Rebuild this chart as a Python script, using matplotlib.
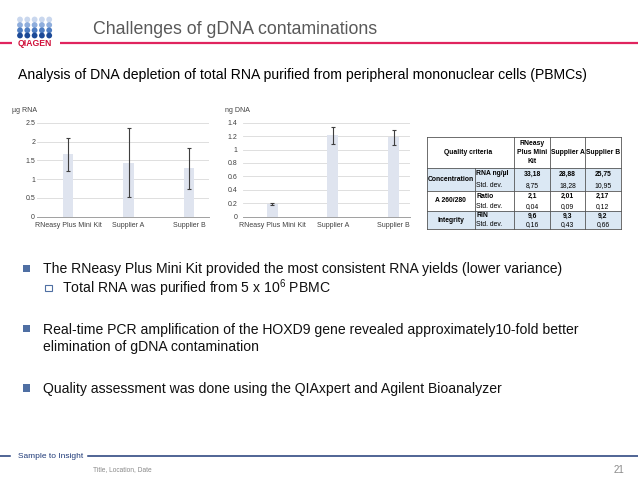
import matplotlib
matplotlib.use("Agg")
import matplotlib.pyplot as plt
from matplotlib.patches import Rectangle, Circle
import numpy as np

plt.rcParams['font.family'] = ['Liberation Sans', 'DejaVu Sans']
plt.rcParams['mathtext.default'] = 'regular'

# ---------------- data ----------------
kit_labels = ["RNeasy Plus Mini Kit", "Supplier A", "Supplier B"]
rna_ug = [1.66, 1.44, 1.29]
rna_err = [0.44, 0.91, 0.55]
rna_ticks = [0, 0.5, 1, 1.5, 2, 2.5]
dna_ng = [0.19, 1.21, 1.18]
dna_err = [0.02, 0.12, 0.11]
dna_ticks = [0, 0.2, 0.4, 0.6, 0.8, 1, 1.2, 1.4]

table_kits = ["RNeasy\nPlus Mini\nKit", "Supplier A", "Supplier B"]
criteria = ["Concentration", "A 260/280", "Integrity"]
measure = ["RNA ng/µl", "Ratio", "RIN"]
vals_main = [["33,18", "28,88", "25,75"], ["2,1", "2,01", "2,17"], ["9,6", "9,3", "9,2"]]
vals_sd = [["8,75", "18,28", "10,95"], ["0,04", "0,09", "0,12"], ["0,16", "0,43", "0,66"]]

bullets = [
    ["The RNeasy Plus Mini Kit provided the most consistent RNA yields (lower variance)"],
    ["Real-time PCR amplification of the HOXD9 gene revealed approximately10-fold better",
     "elimination of gDNA contamination"],
    ["Quality assessment was done using the QIAxpert and Agilent Bioanalyzer"],
]
sub_bullet = "Total RNA was purified from 5 x 10$^{6}$ PBMC"

# ---------------- figure ----------------
W, H = 638, 478
fig = plt.figure(figsize=(W / 100, H / 100), dpi=100)
fig.patch.set_facecolor("white")

ov = fig.add_axes([0, 0, 1, 1])
ov.set_xlim(0, W)
ov.set_ylim(H, 0)
ov.axis("off")


def px_axes(left, top, right, bottom):
    return fig.add_axes([left / W, (H - bottom) / H, (right - left) / W, (bottom - top) / H])


# header
ov.plot([0, 11.5], [42.7, 42.7], color="#e0245e", lw=1.6, solid_capstyle="butt")
ov.plot([60, W], [42.7, 42.7], color="#e0245e", lw=1.6, solid_capstyle="butt")
dot_cols = [20, 27.3, 34.6, 41.9, 49.2]
dot_rows = [19.5, 25.0, 30.3, 35.5]
dot_colors = ["#c9d7ee", "#8eaddc", "#4d7cc1", "#1c4a97"]
for ry, c in zip(dot_rows, dot_colors):
    for cx in dot_cols:
        ov.add_patch(Circle((cx, ry), 2.9, color=c, lw=0))
ov.text(34.6, 43.5, "QIAGEN", color="#d0103a", fontsize=6.2, fontweight="bold",
        ha="center", va="center")
ov.text(93.3, 33.5, "Challenges of gDNA contaminations", color="#595959", fontsize=12.8,
        ha="left", va="baseline")
ov.text(18.3, 79, "Analysis of DNA depletion of total RNA purified from peripheral mononuclear cells (PBMCs)",
        color="black", fontsize=10.1, ha="left", va="baseline")

# bullets
bcol = "#4f6fa3"
bfs = 10.1
b_lines = [273, 333.7, 392.5]
b_sq = [268.5, 328.7, 387.9]
line_gap = 16.8
for lines, yb, ys in zip(bullets, b_lines, b_sq):
    ov.add_patch(Rectangle((22.7, ys - 3.7), 7.4, 7.4, color=bcol, lw=0))
    for k, txt in enumerate(lines):
        ov.text(43.3, yb + k * line_gap, txt, fontsize=bfs, ha="left", va="baseline",
                color="#111111")
ov.add_patch(Rectangle((45.3, 285.2), 6.2, 6.2, facecolor="none", edgecolor=bcol, lw=0.8))
ov.text(61.7, 293, sub_bullet, fontsize=bfs, ha="left", va="baseline", color="#111111")

# footer
navy = "#1f3a78"
ov.plot([0, 10], [456, 456], color=navy, lw=1.1)
ov.plot([88, W], [456, 456], color=navy, lw=1.1)
ov.text(18.3, 456, "Sample to Insight", color=navy, fontsize=6.0, ha="left", va="center")
ov.text(93, 470, "Title, Location, Date", color="#8a8a8a", fontsize=4.8, ha="left", va="center")
ov.text(624, 470, "21", color="#8a8a8a", fontsize=7, ha="right", va="center")

# ---------------- bar charts ----------------
bar_color = "#dfe4ef"
err_color = "#3f3f3f"
tick_color = "#404040"
tfs = 5.0


def bar_chart(ax, vals, errs, ticks, xlim, pad):
    x = np.arange(len(kit_labels))
    ax.bar(x, vals, width=0.18, color=bar_color, zorder=2)
    ax.errorbar(x, vals, yerr=errs, fmt="none", ecolor=err_color, elinewidth=0.8,
                capsize=1.6, capthick=0.8, zorder=3)
    ax.set_xlim(*xlim)
    ax.set_ylim(ticks[0], ticks[-1])
    ax.set_yticks(ticks)
    ax.set_yticklabels([("%g" % t) for t in ticks])
    ax.set_xticks(x)
    ax.set_xticklabels(kit_labels)
    ax.tick_params(axis="y", length=0, labelsize=tfs, labelcolor=tick_color, pad=pad)
    ax.tick_params(axis="x", length=0, labelsize=tfs, labelcolor=tick_color, pad=3.5)
    ax.grid(axis="y", color="#d9d9d9", lw=0.6, zorder=0)
    for s in ["top", "right", "left"]:
        ax.spines[s].set_visible(False)
    ax.spines["bottom"].set_color("#a0a0a0")
    ax.spines["bottom"].set_linewidth(0.7)
    ax.set_facecolor("none")


ax1 = px_axes(36.5, 122.7, 209, 216.7)
bar_chart(ax1, rna_ug, rna_err, rna_ticks, (-0.52, 2.33), 1.0)
ov.text(11.7, 110, "µg RNA", fontsize=tfs, color=tick_color, ha="left", va="center")

ax2 = px_axes(243, 122.7, 410, 216.7)
bar_chart(ax2, dna_ng, dna_err, dna_ticks, (-0.48, 2.27), 4.0)
ov.text(225, 110, "ng DNA", fontsize=tfs, color=tick_color, ha="left", va="center")

# ---------------- table ----------------
col_x = [426.7, 475, 514, 550, 585, 620.7]
row_y = [137.3, 167.7, 191, 211, 229]
fill = ["#dbe8f4", "white", "#dbe8f4"]
lc = "#555555"
lw = 0.6
tab_fs = 4.9

for i in range(3):
    ov.add_patch(Rectangle((col_x[0], row_y[i + 1]), col_x[-1] - col_x[0],
                           row_y[i + 2] - row_y[i + 1], facecolor=fill[i], lw=0, zorder=1))
for y in row_y:
    ov.plot([col_x[0], col_x[-1]], [y, y], color=lc, lw=lw, zorder=2)
for j, x in enumerate(col_x):
    y0 = row_y[1] if j == 1 else row_y[0]
    ov.plot([x, x], [y0, row_y[-1]], color=lc, lw=lw, zorder=2)

ov.text((col_x[0] + col_x[2]) / 2 - 2, 152.7, "Quality criteria", fontsize=tab_fs,
        fontweight="bold", ha="center", va="center", zorder=3)
for j, k in enumerate(table_kits):
    ov.text((col_x[j + 2] + col_x[j + 3]) / 2, 152.7, k, fontsize=tab_fs, fontweight="bold",
            ha="center", va="center", linespacing=1.4, zorder=3)
for i in range(3):
    y0, y1 = row_y[i + 1], row_y[i + 2]
    ym = (y0 + y1) / 2
    yu = y0 + (y1 - y0) * 0.27
    yl = y0 + (y1 - y0) * 0.77
    ov.text((col_x[0] + col_x[1]) / 2, ym, criteria[i], fontsize=tab_fs, fontweight="bold",
            ha="center", va="center", zorder=3)
    ov.text(col_x[1] + 1.3, yu, measure[i], fontsize=tab_fs, fontweight="bold",
            ha="left", va="center", zorder=3)
    ov.text(col_x[1] + 1.3, yl, "Std. dev.", fontsize=tab_fs, ha="left", va="center", zorder=3)
    for j in range(3):
        xc = (col_x[j + 2] + col_x[j + 3]) / 2
        ov.text(xc, yu, vals_main[i][j], fontsize=tab_fs, fontweight="bold",
                ha="center", va="center", zorder=3)
        ov.text(xc, yl, vals_sd[i][j], fontsize=tab_fs, ha="center", va="center", zorder=3)

fig.savefig("out.png", dpi=100, facecolor="white")
